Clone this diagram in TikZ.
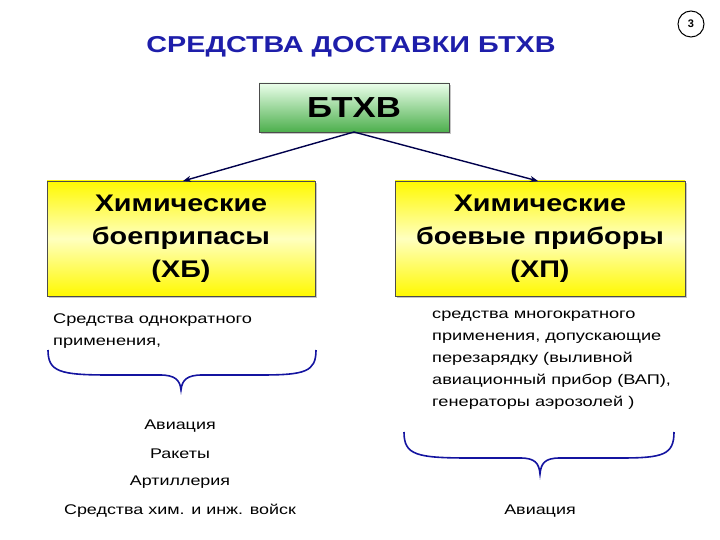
\documentclass[tikz,border=0pt]{standalone}
\usepackage{fontspec}
\usepackage{graphicx}
\setmainfont{Liberation Sans}
\usetikzlibrary{arrows.meta,shadows}
\definecolor{tblue}{RGB}{30,30,170}
\definecolor{brc}{RGB}{20,20,160}
\newcommand{\hw}[2][1.25]{\scalebox{#1}[1]{#2}}
\tikzset{
 box/.style={draw=black!70,line width=0.6pt,drop shadow={shadow xshift=2pt,shadow yshift=-2pt,fill=black!45},align=center,font=\bfseries\fontsize{24}{33}\selectfont},
 ybox/.style={box,top color=yellow!95!orange,bottom color=yellow!95!orange,middle color=yellow!25},
 gbox/.style={box,top color=green!8,bottom color=green!55!black!70!white,font=\bfseries\fontsize{29}{32}\selectfont},
 arr/.style={-{Stealth[length=8pt,width=6pt]},line width=1.4pt,draw=black!70!blue},
 small/.style={font=\fontsize{14}{22}\selectfont,align=left,anchor=north west,inner sep=0},
 lst/.style={font=\fontsize{14}{16}\selectfont},
 brace/.style={draw=brc,line width=1.6pt}
}
\begin{document}
\begin{tikzpicture}[x=1pt,y=-1pt]
\useasboundingbox (0,0) rectangle (720,540);
\node[font=\bfseries\fontsize{23}{26}\selectfont,text=tblue] (title) at (351,47) {\hw{СРЕДСТВА ДОСТАВКИ БТХВ}};
\node[draw,circle,line width=1pt,minimum size=26pt,inner sep=0,font=\bfseries\fontsize{11}{12}\selectfont] (num) at (691,24) {3};
\node[gbox,minimum width=190pt,minimum height=49pt] (btxv) at (354,107.5) {\hw[1.2]{БТХВ}};
\node[ybox,minimum width=268pt,minimum height=115pt] (xb) at (181,238.5) {\hw[1.2]{Химические}\\\hw[1.2]{боеприпасы}\\\hw[1.2]{(ХБ)}};
\node[ybox,minimum width=290pt,minimum height=115pt] (xp) at (540,238.5) {\hw[1.2]{Химические}\\\hw[1.2]{боевые приборы}\\\hw[1.2]{(ХП)}};
\coordinate (bt) at (354,132);
\draw[arr] (bt) -- (183,181);
\draw[arr] (bt) -- (538,181);
\node[small] (lt) at (53,314) {\hw[1.3]{Средства однократного}\\\hw[1.3]{применения,}};
\node[small] (rt) at (432,311) {\hw[1.3]{средства многократного}\\\hw[1.3]{применения, допускающие}\\\hw[1.3]{перезарядку (выливной}\\\hw[1.3]{авиационный прибор (ВАП),}\\\hw[1.3]{генераторы аэрозолей )}};
\draw[brace] (48,350) .. controls (48,372) and (60,375) .. (110,375) -- (160,375) .. controls (175,375) and (180,380) .. (181,390) .. controls (182,380) and (187,375) .. (202,375) -- (260,375) .. controls (305,375) and (316,372) .. (316,350);
\draw[brace] (404,432) .. controls (404,455) and (416,458) .. (470,458) -- (520,458) .. controls (535,458) and (539,463) .. (540,474) .. controls (541,463) and (545,458) .. (560,458) -- (620,458) .. controls (663,458) and (674,455) .. (674,432);
\node[lst] (l1) at (180,426) {\hw[1.28]{Авиация}};
\node[lst] (l2) at (180,454) {\hw[1.28]{Ракеты}};
\node[lst] (l3) at (180,482) {\hw[1.28]{Артиллерия}};
\node[lst] (l4) at (180,511) {\hw[1.28]{Средства хим. и инж. войск}};
\node[lst] (r1) at (540,511) {\hw[1.28]{Авиация}};
\end{tikzpicture}
\end{document}
